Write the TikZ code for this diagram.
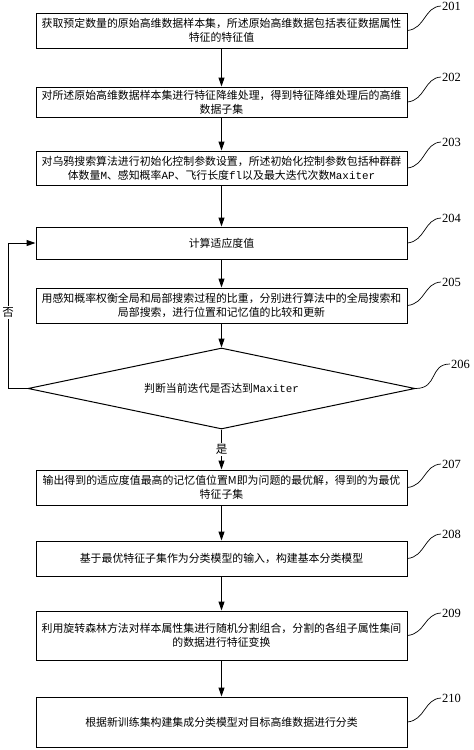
\documentclass[tikz,border=0pt]{standalone}
\usepackage{fontspec}
\setmainfont{Noto Sans CJK SC}
\setmonofont{Liberation Mono}
\newfontfamily\numfont{Liberation Serif}
\usetikzlibrary{shapes.geometric,arrows.meta}
\begin{document}
\begin{tikzpicture}[x=1pt,y=-1pt,
  box/.style={draw,line width=1pt,minimum width=371pt,inner sep=0pt,align=center,
    font=\fontsize{10.9}{14}\selectfont},
  dec/.style={draw,diamond,line width=1pt,inner sep=0pt,minimum width=387pt,
    minimum height=81pt,aspect=4.78,font=\fontsize{10.9}{14}\selectfont},
  arr/.style={line width=1pt,-{Triangle[length=9pt,width=6pt]}},
  lbl/.style={font=\numfont\fontsize{12.5}{14}\selectfont,anchor=west,inner sep=1pt},
  squig/.style={line width=0.7pt},
  yn/.style={fill=white,inner sep=1.5pt,font=\fontsize{11.5}{14}\selectfont}]
\useasboundingbox (0,0) rectangle (474,750);

\node[box,minimum height=35pt] (b1) at (221.5,30.5) {获取预定数量的原始高维数据样本集，所述原始高维数据包括表征数据属性\\特征的特征值};
\node[box,minimum height=30pt] (b2) at (221.5,102) {对所述原始高维数据样本集进行特征降维处理，得到特征降维处理后的高维\\数据子集};
\node[box,minimum height=34pt] (b3) at (221.5,168) {对乌鸦搜索算法进行初始化控制参数设置，所述初始化控制参数包括种群群\\体数量\texttt{M}、感知概率\texttt{AP}、飞行长度\texttt{fl}以及最大迭代次数\texttt{Maxiter}};
\node[box,minimum height=32pt] (b4) at (221.5,243) {计算适应度值};
\node[box,minimum height=35pt] (b5) at (221.5,305.5) {用感知概率权衡全局和局部搜索过程的比重，分别进行算法中的全局搜索和\\局部搜索，进行位置和记忆值的比较和更新};
\node[dec] (d6) at (221.5,388.5) {判断当前迭代是否达到\texttt{Maxiter}};
\node[box,minimum height=35pt] (b7) at (221.5,487.5) {输出得到的适应度值最高的记忆值位置\textit{M}即为问题的最优解，得到的为最优\\特征子集};
\node[box,minimum height=35pt] (b8) at (221.5,558.5) {基于最优特征子集作为分类模型的输入，构建基本分类模型};
\node[box,minimum height=49pt] (b9) at (221.5,635.5) {利用旋转森林方法对样本属性集进行随机分割组合，分割的各组子属性集间\\的数据进行特征变换};
\node[box,minimum height=50pt] (b10) at (221.5,722) {根据新训练集构建集成分类模型对目标高维数据进行分类};

\draw[arr] (b1) -- (b2);
\draw[arr] (b2) -- (b3);
\draw[arr] (b3) -- (b4);
\draw[arr] (b4) -- (b5);
\draw[arr] (b5) -- (d6);
\draw[arr] (d6) -- (b7) node[yn,pos=0.5] {是};
\draw[arr] (b7) -- (b8);
\draw[arr] (b8) -- (b9);
\draw[arr] (b9) -- (b10);
\coordinate (lp) at (8,388.5);
\draw[arr] (d6.west) -- (lp) |- (b4.west) node[yn,pos=0.26] {否};

\node[lbl] (l1) at (441,6) {201};
\node[lbl] (l2) at (441,77) {202};
\node[lbl] (l3) at (441,142) {203};
\node[lbl] (l4) at (441,218) {204};
\node[lbl] (l5) at (441,282) {205};
\node[lbl] (l6) at (450,364) {206};
\node[lbl] (l7) at (441,464) {207};
\node[lbl] (l8) at (441,534) {208};
\node[lbl] (l9) at (441,613) {209};
\node[lbl] (l10) at (441,698) {210};

\foreach \b/\l in {b1/l1,b2/l2,b3/l3,b4/l4,b5/l5,b7/l7,b8/l8,b9/l9,b10/l10}
  \draw[squig] (\b.east) .. controls +(18,-2) and +(-17,1) .. (\l.west);
\draw[squig] (d6.east) .. controls +(23,0) and +(-21,0) .. (l6.west);
\end{tikzpicture}
\end{document}
